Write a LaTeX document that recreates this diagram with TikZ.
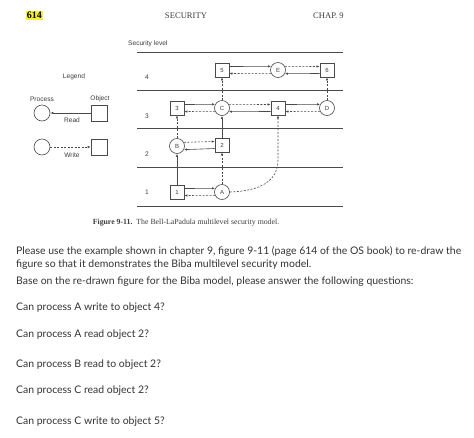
\documentclass[tikz,border=0pt]{standalone}
\usepackage{fontspec}
\setmainfont{Liberation Serif}
\newfontfamily\helv{Liberation Sans}
\newfontfamily\lato{Lato}
\usetikzlibrary{arrows.meta}
\definecolor{figline}{HTML}{4A4A4A}
\definecolor{figtext}{HTML}{3C3C3C}
\definecolor{bodytext}{HTML}{333333}
\definecolor{hl}{HTML}{F4F03A}
\tikzset{
  obj/.style={draw=figline, line width=0.6pt, minimum size=14pt, inner sep=0pt, text=figtext, font=\helv\fontsize{6}{7}\selectfont},
  proc/.style={obj, circle, minimum size=15pt},
  lobj/.style={obj, minimum size=16pt},
  lproc/.style={proc, minimum size=16pt},
  lvl/.style={draw=figline, line width=0.9pt},
  rd/.style={draw=figline, line width=0.6pt, -{Latex[length=3pt,width=2.4pt]}},
  wr/.style={rd, dashed, dash pattern=on 2pt off 1.5pt},
  small/.style={text=figtext, font=\helv\fontsize{6.6}{7.5}\selectfont, inner sep=0pt},
  body/.style={anchor=west, inner sep=0pt, text=bodytext, font=\lato\fontsize{10.45}{12}\selectfont},
}
\begin{document}
\begin{tikzpicture}[x=1pt,y=-1pt]
\useasboundingbox (0,0) rectangle (474,437);
% header
\node[fill=hl, inner sep=1pt, font=\bfseries\fontsize{10}{11}\selectfont] (pg) at (34.5,15.5) {614};
\node[font=\fontsize{8.6}{10}\selectfont, text=figtext] (sec) at (186,15.5) {SECURITY};
\node[font=\fontsize{8.6}{10}\selectfont, text=figtext] (chap) at (328.5,15.5) {CHAP.\ 9};
% security levels
\node[small, anchor=west] (sl) at (128,44) {Security level};
\coordinate (l0a) at (137,52);  \coordinate (l0b) at (343,52);
\coordinate (l1a) at (137,90);  \coordinate (l1b) at (343,90);
\coordinate (l2a) at (137,128); \coordinate (l2b) at (343,128);
\coordinate (l3a) at (137,167); \coordinate (l3b) at (343,167);
\coordinate (l4a) at (137,206); \coordinate (l4b) at (343,206);
\draw[lvl] (l0a) -- (l0b);
\draw[lvl] (l1a) -- (l1b);
\draw[lvl] (l2a) -- (l2b);
\draw[lvl] (l3a) -- (l3b);
\draw[lvl] (l4a) -- (l4b);
\node[small] (lv4) at (147,77) {4};
\node[small] (lv3) at (147,116) {3};
\node[small] (lv2) at (147,154) {2};
\node[small] (lv1) at (147,192) {1};
% nodes
\node[obj]  (n5) at (222,70) {5};
\node[proc] (E)  at (278,70) {E};
\node[obj]  (n6) at (327,70) {6};
\node[obj]  (n3) at (177,108) {3};
\node[proc] (C)  at (222,108) {C};
\node[obj]  (n4) at (278,108) {4};
\node[proc] (D)  at (327,108) {D};
\node[proc] (B)  at (177,146) {B};
\node[obj]  (n2) at (222,145) {2};
\node[obj]  (n1) at (177,192) {1};
\node[proc] (A)  at (222,192) {A};
% level 4
\draw[rd] ([yshift=3.5pt]n5.east) -- (E.152);
\draw[wr] (E.208) -- ([yshift=-3.5pt]n5.east);
\draw[wr] (E.28) -- ([yshift=3.5pt]n6.west);
\draw[rd] ([yshift=-3.5pt]n6.west) -- (E.332);
% level 3
\draw[rd] ([yshift=3.5pt]n3.east) -- (C.152);
\draw[wr] (C.208) -- ([yshift=-3.5pt]n3.east);
\draw[wr] (C.28) -- ([yshift=3.5pt]n4.west);
\draw[rd] ([yshift=-3.5pt]n4.west) -- (C.332);
\draw[rd] ([yshift=3.5pt]n4.east) -- (D.152);
\draw[wr] (D.208) -- ([yshift=-3.5pt]n4.east);
% level 2
\draw[wr] (B.28) -- ([yshift=3.5pt]n2.west);
\draw[rd] ([yshift=-3.5pt]n2.west) -- (B.332);
% level 1
\draw[rd] ([yshift=3.5pt]n1.east) -- (A.152);
\draw[wr] (A.208) -- ([yshift=-3.5pt]n1.east);
% vertical
\draw[wr] (C.north) -- (n5.south);
\draw[wr] (D.north) -- (n6.south);
\draw[wr] (B.north) -- (n3.south);
\draw[rd] (n2.north) -- (C.south);
\draw[rd] (n1.north) -- (B.south);
\draw[wr] (A.north) -- (n2.south);
\coordinate (bend) at (278,160);
\draw[wr] (A.east) .. controls (262,191) and (278,180) .. (bend) -- (n4.south);
% legend
\node[small] (leg) at (74,77) {Legend};
\node[lproc] (pr) at (42,113) {};
\node[lobj]  (ob) at (99,113) {};
\node[small] (prl) at (42,99) {Process};
\node[small] (obl) at (100,99) {Object};
\draw[rd] (ob.west) -- (pr.east);
\node[small] (rdl) at (72,120) {Read};
\node[lproc] (pw) at (42,147) {};
\node[lobj]  (ow) at (99,147) {};
\draw[wr] (pw.east) -- (ow.west);
\node[small] (wrl) at (72,155) {Write};
% caption
\node[text=figtext, inner sep=0pt, font=\fontsize{7.8}{9}\selectfont] (cap) at (186,223) {\textbf{Figure 9-11.}\ \ The Bell-LaPadula multilevel security model.};
% body text
\node[body] (t1) at (16,251) {Please use the example shown in chapter 9, figure 9-11 (page 614 of the OS book) to re-draw the};
\node[body] (t2) at (16,264.5) {figure so that it demonstrates the Biba multilevel security model.};
\node[body] (t3) at (16,282) {Base on the re-drawn figure for the Biba model, please answer the following questions:};
\node[body] (q1) at (16,308) {Can process A write to object 4?};
\node[body] (q2) at (16,335) {Can process A read object 2?};
\node[body] (q3) at (16,365) {Can process B read to object 2?};
\node[body] (q4) at (16,391) {Can process C read object 2?};
\node[body] (q5) at (16,422) {Can process C write to object 5?};
\end{tikzpicture}
\end{document}
